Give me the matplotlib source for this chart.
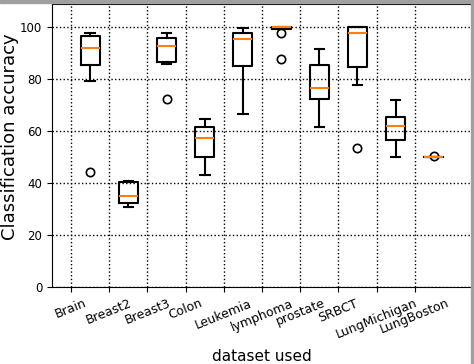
import matplotlib
matplotlib.use("Agg")
import matplotlib.pyplot as plt
from matplotlib.patches import Rectangle

datasets = ["Brain", "Breast2", "Breast3", "Colon", "Leukemia", "lymphoma",
            "prostate", "SRBCT", "LungMichigan", "LungBoston"]
whislo = [79.3, 30.8, 85.8, 43.2, 66.5, 99.2, 61.5, 77.6, 49.9, 50.0]
q1     = [85.3, 32.3, 86.5, 49.9, 85.1, 99.2, 72.4, 84.5, 56.5, 50.0]
med    = [91.8, 34.9, 92.7, 57.2, 95.4, 99.8, 76.4, 97.8, 61.9, 50.0]
q3     = [96.5, 40.5, 95.8, 61.4, 97.8, 100.0, 85.4, 99.8, 65.3, 50.0]
whishi = [97.6, 40.9, 97.6, 64.5, 99.7, 100.0, 91.5, 99.8, 71.9, 50.0]
fliers = [[44.1], [], [72.4], [], [], [97.6, 87.6], [], [53.6], [], [50.2]]

stats = []
for i, name in enumerate(datasets):
    stats.append(dict(label=name, whislo=whislo[i], q1=q1[i], med=med[i],
                      q3=q3[i], whishi=whishi[i], fliers=fliers[i]))

fig = plt.figure(figsize=(4.74, 3.64), dpi=100)
ax = fig.add_axes([52/474, 77/364, 420/474, 283/364])
positions = list(range(1, len(datasets) + 1))
ax.bxp(stats, positions=positions, widths=0.5,
       medianprops=dict(color="#ff7f0e", linewidth=1.5),
       boxprops=dict(linewidth=1.5), whiskerprops=dict(linewidth=1.5),
       capprops=dict(linewidth=1.5),
       flierprops=dict(marker="o", markerfacecolor="none", markeredgecolor="k",
                       markersize=6, markeredgewidth=1.2))

ax.set_xticks([p - 0.5 for p in positions])
ax.set_xticklabels(datasets, rotation=22, fontsize=9)
ax.set_xlim(0, 11)
ax.set_ylim(0, 108.8)
ax.set_yticks([0, 20, 40, 60, 80, 100])
ax.tick_params(axis="y", labelsize=8.5)
ax.grid(True, linestyle=":", color="k", linewidth=1)
ax.set_axisbelow(True)
ax.set_ylabel("Classification accuracy", fontsize=13)
ax.yaxis.set_label_coords(-0.079, 0.53)
ax.set_xlabel("dataset used", fontsize=11, labelpad=5.5)

# scan border (grey bands at top and right)
fig.patches.append(Rectangle((0, 1 - 3/364), 1, 3/364, transform=fig.transFigure,
                             color="#a0a0a0", zorder=10))
fig.patches.append(Rectangle((1 - 3/474, 0), 3/474, 1, transform=fig.transFigure,
                             color="#a0a0a0", zorder=10))

fig.savefig("out.png", dpi=100)
